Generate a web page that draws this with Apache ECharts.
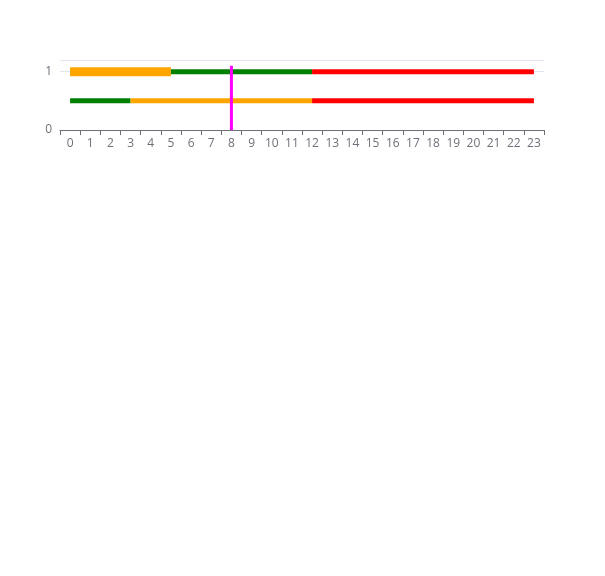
<!DOCTYPE html>
<html><head><meta charset="utf-8">
<script src="https://cdn.jsdelivr.net/npm/echarts@6/dist/echarts.min.js"></script>
<style>html,body{margin:0;padding:0;background:#fff}#c{width:605px;height:576px}</style>
</head><body><div id="c"></div>
<script>
var hours = ['0','1','2','3','4','5','6','7','8','9','10','11','12','13','14','15','16','17','18','19','20','21','22','23'];
// segments: [hour, yValue] pairs
var rowA_orange = [['0',1],['5',1]];
var rowA_green  = [['5',1],['12',1]];
var rowA_red    = [['12',1],['23',1]];
var rowB_green  = [['0',0.5],['3',0.5]];
var rowB_orange = [['3',0.5],['12',0.5]];
var rowB_red    = [['12',0.5],['23',0.5]];
var nowMarker   = [['8',0],['8',1.1]];
var yTicks = [0, 1];

function seg(data, color, width) {
  return { type:'line', data:data, symbol:'none', silent:true, animation:false,
    lineStyle:{color:color, width:width, cap:'butt'} };
}
var chart = echarts.init(document.getElementById('c'));
chart.setOption({
  animation:false,
  textStyle:{fontFamily:'"Open Sans", sans-serif'},
  grid:{left:60, right:61, top:60, bottom:446, containLabel:false},
  xAxis:{type:'category', data:hours, boundaryGap:true,
    axisLine:{show:true, lineStyle:{color:'#6E7079'}},
    axisLabel:{interval:0, fontSize:12, color:'#6E7079', fontFamily:'"Open Sans", sans-serif'},
    axisTick:{show:true, interval:0, length:5, lineStyle:{color:'#6E7079'}}},
  yAxis:{type:'value', min:0, max:1.2, interval:1,
    axisLabel:{fontSize:12, color:'#6E7079', fontFamily:'"Open Sans", sans-serif', formatter:function(v){return yTicks.indexOf(v)>=0? String(v):'';}},
    splitLine:{lineStyle:{color:'#E0E6F1'}}},
  series:[
    seg(rowA_orange,'#FFA500',9),
    seg(rowA_green,'#008000',5),
    seg(rowA_red,'#FF0000',5),
    seg(rowB_green,'#008000',5),
    seg(rowB_orange,'#FFA500',5),
    seg(rowB_red,'#FF0000',5),
    seg(nowMarker,'#FF00FF',3)
  ]
});
</script></body></html>
